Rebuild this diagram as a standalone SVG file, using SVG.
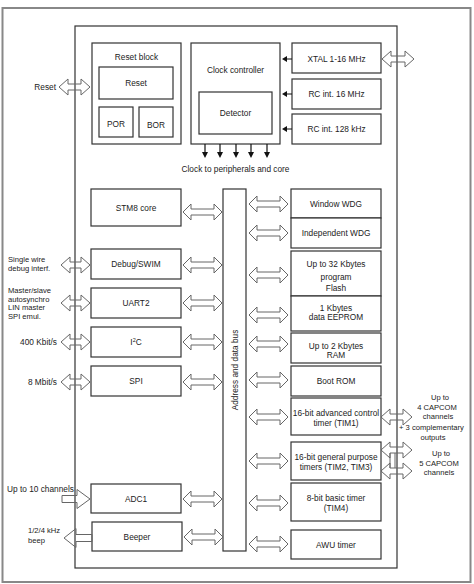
<svg xmlns="http://www.w3.org/2000/svg" width="474" height="584" viewBox="0 0 474 584">
<style>
text{font-family:"Liberation Sans",Arial,sans-serif;font-size:8.3px;fill:#222}
.c{text-anchor:middle}
.e{text-anchor:end}
.sm{font-size:7.6px}
.box{fill:#fff;stroke:#333;stroke-width:1.2}
.da{fill:none;stroke:#666;stroke-width:1}
.sa{fill:none;stroke:#666;stroke-width:1}
.ln{stroke:#111;stroke-width:1.2;fill:none}
.ah{fill:#111}
</style>
<rect x="2.5" y="8" width="468" height="574" fill="#fff" stroke="#888" stroke-width="2"/>
<rect x="75" y="26" width="322" height="542" fill="none" stroke="#333" stroke-width="1.2"/>

<g id="reset-block">
<rect class="box" x="92" y="43" width="89" height="101"/>
<text class="c" x="136.5" y="60">Reset block</text>
</g>
<g id="reset"><rect class="box" x="99" y="67" width="74" height="32"/><text class="c" x="136" y="86">Reset</text></g>
<g id="por"><rect class="box" x="99" y="107" width="34" height="30"/><text class="c" x="116" y="127">POR</text></g>
<g id="bor"><rect class="box" x="139" y="107" width="34" height="30"/><text class="c" x="156" y="128">BOR</text></g>

<g id="clock-controller">
<rect class="box" x="191" y="43" width="89" height="101"/>
<text class="c" x="235.5" y="73">Clock controller</text>
</g>
<g id="detector"><rect class="box" x="199" y="92" width="73" height="42"/><text class="c" x="235.5" y="116">Detector</text></g>

<g id="xtal"><rect class="box" x="292" y="43" width="89" height="30"/><text class="c" x="336.5" y="62">XTAL 1-16 MHz</text></g>
<g id="rc16"><rect class="box" x="292" y="79" width="89" height="30"/><text class="c" x="336.5" y="97">RC int. 16 MHz</text></g>
<g id="rc128"><rect class="box" x="292" y="114" width="89" height="30"/><text class="c" x="336.5" y="132">RC int. 128 kHz</text></g>

<g id="stm8"><rect class="box" x="91" y="189" width="90" height="37"/><text class="c" x="136" y="211">STM8 core</text></g>
<g id="swim"><rect class="box" x="91" y="249" width="90" height="30"/><text class="c" x="136" y="267">Debug/SWIM</text></g>
<g id="uart2"><rect class="box" x="91" y="288" width="90" height="30"/><text class="c" x="136" y="306">UART2</text></g>
<g id="i2c"><rect class="box" x="91" y="327" width="90" height="30"/><text class="c" x="136" y="345">I<tspan font-size="5.5" dy="-3">2</tspan><tspan dy="3">C</tspan></text></g>
<g id="spi"><rect class="box" x="91" y="366" width="90" height="30"/><text class="c" x="136" y="384">SPI</text></g>
<g id="adc1"><rect class="box" x="91" y="484" width="90" height="29"/><text class="c" x="136" y="502">ADC1</text></g>
<g id="beeper"><rect class="box" x="92" y="522" width="90" height="29"/><text class="c" x="137" y="540">Beeper</text></g>

<g id="bus"><rect class="box" x="223" y="189" width="23" height="362"/><text class="c" transform="translate(238,370) rotate(-90)">Address and data bus</text></g>

<g id="wwdg"><rect class="box" x="291" y="189" width="90" height="29"/><text class="c" x="336" y="207">Window WDG</text></g>
<g id="iwdg"><rect class="box" x="291" y="218" width="90" height="30"/><text class="c" x="336" y="236">Independent WDG</text></g>
<g id="flash"><rect class="box" x="291" y="251" width="90" height="45"/><text class="c" x="336" y="267">Up to 32 Kbytes</text><text class="c" x="336" y="280">program</text><text class="c" x="336" y="291">Flash</text></g>
<g id="eeprom"><rect class="box" x="291" y="296" width="90" height="35"/><text class="c" x="336" y="311">1 Kbytes</text><text class="c" x="336" y="320">data EEPROM</text></g>
<g id="ram"><rect class="box" x="291" y="333" width="90" height="30"/><text class="c" x="336" y="349">Up to 2 Kbytes</text><text class="c" x="336" y="358">RAM</text></g>
<g id="bootrom"><rect class="box" x="291" y="366" width="90" height="30"/><text class="c" x="336" y="384">Boot ROM</text></g>
<g id="tim1"><rect class="box" x="291" y="398" width="90" height="37"/><text class="c" x="336" y="416">16-bit advanced control</text><text class="c" x="336" y="426">timer (TIM1)</text></g>
<g id="tim23"><rect class="box" x="291" y="442" width="90" height="38"/><text class="c" x="336" y="460">16-bit general purpose</text><text class="c" x="336" y="470">timers (TIM2, TIM3)</text></g>
<g id="tim4"><rect class="box" x="291" y="483" width="90" height="38"/><text class="c" x="336" y="501">8-bit basic timer</text><text class="c" x="336" y="511">(TIM4)</text></g>
<g id="awu"><rect class="box" x="291" y="530" width="90" height="29"/><text class="c" x="336" y="548">AWU timer</text></g>

<g id="labels">
<text class="e" x="56" y="90">Reset</text>
<text class="sm" x="8" y="262">Single wire</text>
<text class="sm" x="8" y="271">debug interf.</text>
<text class="sm" x="8" y="293">Master/slave</text>
<text class="sm" x="8" y="301.5">autosynchro</text>
<text class="sm" x="8" y="310">LIN master</text>
<text class="sm" x="8" y="318.5">SPI emul.</text>
<text class="e" x="57" y="345">400 Kbit/s</text>
<text class="e" x="57" y="385">8 Mbit/s</text>
<text x="7" y="492">Up to 10 channels</text>
<text class="sm" x="28" y="533">1/2/4 kHz</text>
<text class="sm" x="28" y="543">beep</text>
<text class="c" x="235.5" y="172">Clock to peripherals and core</text>
<text class="c sm" x="440" y="400">Up to</text>
<text class="c sm" x="437" y="410">4 CAPCOM</text>
<text class="c sm" x="438" y="419">channels</text>
<text class="sm" x="399" y="430">+ 3 complementary</text>
<text class="c sm" x="433" y="440">outputs</text>
<text class="c sm" x="441" y="456">Up to</text>
<text class="c sm" x="439" y="466">5 CAPCOM</text>
<text class="c sm" x="439" y="475">channels</text>
</g>

<g id="connectors">
<path class="ln" d="M292,59H286M292,94H286M292,129H286"/>
<path class="ah" d="M282,59l5,-3v6zM282,94l5,-3v6zM282,129l5,-3v6z"/>
<path class="ln" d="M205,144v8M220,144v8M236,144v8M251,144v8M267,144v8"/>
<path class="ah" d="M205,158l-3,-6h6zM220,158l-3,-6h6zM236,158l-3,-6h6zM251,158l-3,-6h6zM267,158l-3,-6h6z"/>
<path class="da" d="M59,87l9,-8v5h13v-5l9,8l-9,8v-5h-13v5z"/>
<path class="da" d="M382,59l9,-8v5h14v-5l9,8l-9,8v-5h-14v5z"/>
<path class="da" d="M61,265l9,-8v5h11v-5l9,8l-9,8v-5h-11v5z"/>
<path class="da" d="M61,303l9,-8v5h11v-5l9,8l-9,8v-5h-11v5z"/>
<path class="da" d="M61,342l9,-8v5h11v-5l9,8l-9,8v-5h-11v5z"/>
<path class="da" d="M61,382l9,-8v5h11v-5l9,8l-9,8v-5h-11v5z"/>
<path class="da" d="M381,417l9,-8v5h13v-5l9,8l-9,8v-5h-13v5z"/>
<path class="da" d="M381,450l9,-8v5h13v-5l9,8l-9,8v-5h-13v5z"/>
<path class="da" d="M381,471l9,-8v5h13v-5l9,8l-9,8v-5h-13v5z"/>
<path class="da" d="M390,453v15M395,453v15"/>
<path class="sa" d="M62,495.5h15v-6l13,9.5l-13,9.5v-6h-15z"/>
<path class="sa" d="M92,534.5h-16v-6l-12,9.5l12,9.5v-6h16z"/>
<path class="da" d="M183,212l8,-8v5h23v-5l8,8l-8,8v-5h-23v5z"/>
<path class="da" d="M183,265l8,-8v5h23v-5l8,8l-8,8v-5h-23v5z"/>
<path class="da" d="M183,303l8,-8v5h23v-5l8,8l-8,8v-5h-23v5z"/>
<path class="da" d="M183,342l8,-8v5h23v-5l8,8l-8,8v-5h-23v5z"/>
<path class="da" d="M183,382l8,-8v5h23v-5l8,8l-8,8v-5h-23v5z"/>
<path class="da" d="M183,499l8,-8v5h23v-5l8,8l-8,8v-5h-23v5z"/>
<path class="da" d="M184,537l8,-8v5h23v-5l8,8l-8,8v-5h-23v5z"/>
<path class="da" d="M249,204l8,-8v5h23v-5l8,8l-8,8v-5h-23v5z"/>
<path class="da" d="M249,233l8,-8v5h23v-5l8,8l-8,8v-5h-23v5z"/>
<path class="da" d="M249,275l8,-8v5h23v-5l8,8l-8,8v-5h-23v5z"/>
<path class="da" d="M249,315l8,-8v5h23v-5l8,8l-8,8v-5h-23v5z"/>
<path class="da" d="M249,344l8,-8v5h23v-5l8,8l-8,8v-5h-23v5z"/>
<path class="da" d="M249,380l8,-8v5h23v-5l8,8l-8,8v-5h-23v5z"/>
<path class="da" d="M249,417l8,-8v5h23v-5l8,8l-8,8v-5h-23v5z"/>
<path class="da" d="M249,461l8,-8v5h23v-5l8,8l-8,8v-5h-23v5z"/>
<path class="da" d="M249,503l8,-8v5h23v-5l8,8l-8,8v-5h-23v5z"/>
<path class="da" d="M249,544l8,-8v5h23v-5l8,8l-8,8v-5h-23v5z"/>
</g>
</svg>
